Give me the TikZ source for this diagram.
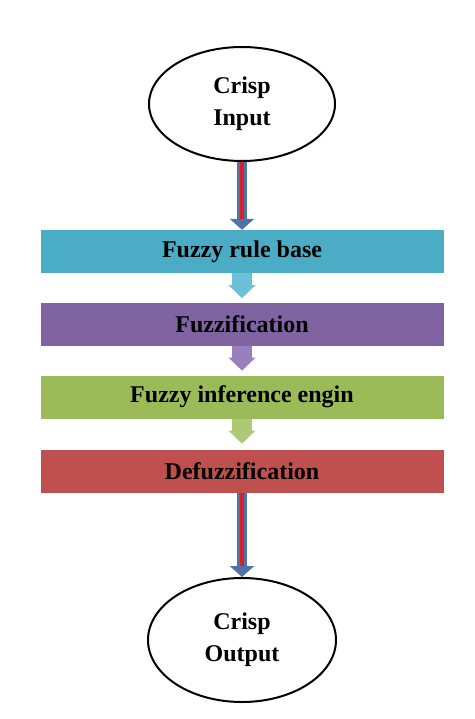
\documentclass[tikz,border=0pt]{standalone}
\usepackage{fontspec}
\setmainfont{Liberation Serif}
\usetikzlibrary{shapes.geometric,arrows.meta}
\definecolor{c1}{HTML}{4BACC6}
\definecolor{c2}{HTML}{8064A2}
\definecolor{c3}{HTML}{9BBB59}
\definecolor{c4}{HTML}{C0504D}
\definecolor{a1}{HTML}{6CC0D8}
\definecolor{a2}{HTML}{9A7FBE}
\definecolor{a3}{HTML}{ADC975}
\definecolor{bigblue}{HTML}{4F72A8}
\definecolor{bigred}{HTML}{D8202A}
\begin{document}
\begin{tikzpicture}[x=1pt,y=-1pt,
  oval/.style={ellipse,draw=black,line width=2pt,fill=white,minimum width=186pt,minimum height=114pt,align=center,font=\bfseries\fontsize{24}{32}\selectfont,inner sep=0pt},
  stage/.style={rectangle,minimum width=403pt,minimum height=43pt,inner sep=0pt,font=\bfseries\fontsize{24}{28}\selectfont},
  bigarrow/.style={draw=bigblue,line width=10pt,-{Triangle[width=24pt,length=11pt]}},
  redline/.style={draw=bigred,line width=3.5pt,shorten >=11pt},
  smallarrow/.style={line width=20pt,-{Triangle[width=26pt,length=13pt]}}
]
\useasboundingbox (0,0) rectangle (474,719);
\node[oval] (in) at (242,104) {Crisp\\Input};
\node[stage,fill=c1] (b1) at (242,251.5) {Fuzzy rule base};
\node[stage,fill=c2] (b2) at (242,324) {Fuzzification};
\node[stage,fill=c3] (b3) at (242,397) {Fuzzy inference engin};
\node[stage,fill=c4] (b4) at (242,471) {Defuzzification};
\node[oval,minimum width=188pt,minimum height=124pt] (out) at (242,640) {Crisp\\Output};
\draw[bigarrow] (in.south) -- (b1.north);
\draw[redline] (in.south) -- (b1.north);
\draw[smallarrow,draw=a1] (b1.south) -- ([yshift=-25pt]b1.south);
\draw[smallarrow,draw=a2] (b2.south) -- ([yshift=-25pt]b2.south);
\draw[smallarrow,draw=a3] (b3.south) -- ([yshift=-25pt]b3.south);
\draw[bigarrow] (b4.south) -- (out.north);
\draw[redline] (b4.south) -- (out.north);
\end{tikzpicture}
\end{document}
